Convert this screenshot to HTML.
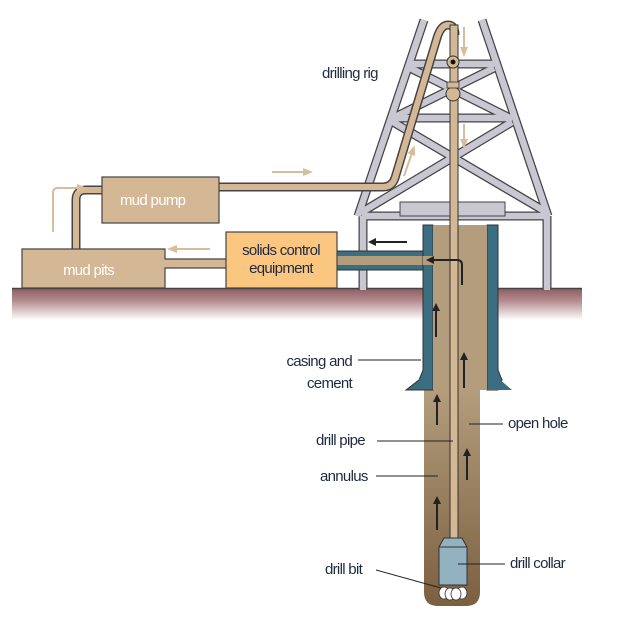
<!DOCTYPE html>
<html><head><meta charset="utf-8"><style>
html,body{margin:0;padding:0;background:#fff}
svg{display:block}
text{font-family:"Liberation Sans Narrow","Liberation Sans",sans-serif;font-size:15px;letter-spacing:-0.7px;fill:#1f2a40}
</style></head><body>
<svg width="642" height="630" viewBox="0 0 642 630" xmlns="http://www.w3.org/2000/svg">
<defs>
<linearGradient id="gr" x1="0" y1="0" x2="0" y2="1"><stop offset="0" stop-color="#8e5a5f"/><stop offset="0.4" stop-color="#b48c90"/><stop offset="1" stop-color="#ffffff"/></linearGradient>
<linearGradient id="hole" x1="0" y1="0" x2="0" y2="1"><stop offset="0" stop-color="#b39d7c"/><stop offset="1" stop-color="#7b6040"/></linearGradient>
<marker id="ah" markerWidth="8" markerHeight="8" refX="4" refY="4" orient="auto" markerUnits="userSpaceOnUse"><path d="M0,0 L8,4 L0,8 Z" fill="#222"/></marker>
<marker id="ahl" markerWidth="10" markerHeight="8" refX="5" refY="4" orient="auto" markerUnits="userSpaceOnUse"><path d="M0,0 L10,4 L0,8 Z" fill="#d8bc9c"/></marker>
</defs>
<!-- ground -->
<rect x="12" y="288" width="570" height="32" fill="url(#gr)"/>
<line x1="12" y1="288.5" x2="582" y2="288.5" stroke="#444" stroke-width="1.5"/>
<!-- derrick -->
<g fill="none" stroke="#444" stroke-width="9" stroke-linejoin="miter">
<path d="M424,20 L358,216 M482,20 L548,216"/>
<path d="M410,64 L494,64 M393,118 L512,118 M362,216 L546,216"/>
<path d="M410,68 L510,118 M494,68 L393,118 M393,122 L546,212 M512,122 L362,212"/>
<path d="M363,216 L363,290 M547,216 L547,290"/>
</g>
<g fill="none" stroke="#c8c7d2" stroke-width="6.5" stroke-linejoin="miter">
<path d="M424,20 L358,216 M482,20 L548,216"/>
<path d="M410,64 L494,64 M393,118 L512,118 M362,216 L546,216"/>
<path d="M410,68 L510,118 M494,68 L393,118 M393,122 L546,212 M512,122 L362,212"/>
<path d="M363,216 L363,290 M547,216 L547,290"/>
</g>
<rect x="400" y="202" width="105" height="14" fill="#c8c7d2" stroke="#444" stroke-width="1"/>
<!-- hose and pipes -->
<g fill="none" stroke-linejoin="round" stroke-linecap="butt">
<path d="M215,187 L383,187 Q392,187 395,178 L437,38 Q441,25 448,25 Q455,25 455,35" stroke="#444" stroke-width="9"/>
<path d="M215,187 L383,187 Q392,187 395,178 L437,38 Q441,25 448,25 Q455,25 455,35" stroke="#d4b895" stroke-width="6"/>
<path d="M76,252 L76,200 Q76,190 86,190 L104,190" stroke="#444" stroke-width="9"/>
<path d="M76,252 L76,200 Q76,190 86,190 L104,190" stroke="#d4b895" stroke-width="6"/>
</g>
<!-- mud pump -->
<rect x="102" y="177" width="117" height="46" fill="#d4b895" stroke="#444" stroke-width="1.2"/>
<text x="120" y="205" style="fill:#fff">mud pump</text>
<!-- mud pits -->
<path d="M22,249 L165,249 L165,259 L228,259 L228,268 L165,268 L165,288 L22,288 Z" fill="#d4b895" stroke="#444" stroke-width="1.2"/>
<text x="63" y="275" style="fill:#fff">mud pits</text>
<!-- solids to casing pipe -->
<rect x="335" y="251" width="92" height="19" fill="#3a6e80" stroke="#333" stroke-width="1"/>
<rect x="335" y="256" width="98" height="9" fill="#b39d7c"/>
<!-- solids control -->
<rect x="226" y="232" width="111" height="56" fill="#fac680" stroke="#444" stroke-width="1.2"/>
<text x="281" y="255" text-anchor="middle">solids control</text>
<text x="281" y="273" text-anchor="middle">equipment</text>
<!-- open hole -->
<path d="M424,390 L480,390 L480,592 Q480,606 466,606 L438,606 Q424,606 424,592 Z" fill="url(#hole)"/>
<!-- casing -->
<path d="M423,225 L433,225 L433,390 L406,390 L419,380 L423,370 Z" fill="#3a6e80" stroke="#333" stroke-width="1"/>
<path d="M487,225 L498,225 L498,370 L502,380 L498,390 L487,390 Z" fill="#3a6e80" stroke="#333" stroke-width="1"/>
<path d="M498,378 L512,390 L487,390 Z" fill="#3a6e80"/>
<rect x="433" y="225" width="54" height="165" fill="#b39d7c"/>
<rect x="423" y="256" width="12" height="9" fill="#b39d7c"/>
<!-- drill pipe -->
<rect x="450" y="25" width="8" height="522" fill="#d4b895" stroke="#333" stroke-width="1"/>
<circle cx="453" cy="62" r="6" fill="#d4b895" stroke="#333"/><circle cx="453" cy="62" r="2.5" fill="#111"/>
<circle cx="453" cy="94" r="7" fill="#d4b895" stroke="#333"/>
<rect x="447" y="82" width="12" height="6" fill="#d4b895" stroke="#333" stroke-width="0.8"/>
<!-- collar and bit -->
<path d="M444,538 L462,538 L467,547 L467,585 L439,585 L439,547 Z" fill="#93b2c0" stroke="#333" stroke-width="1"/>
<line x1="439" y1="547" x2="467" y2="547" stroke="#333" stroke-width="1"/>
<g fill="#fff" stroke="#333" stroke-width="0.8">
<ellipse cx="444" cy="593" rx="5" ry="6"/><ellipse cx="462" cy="593" rx="5" ry="6"/>
<ellipse cx="450" cy="594" rx="5" ry="6"/><ellipse cx="456" cy="594" rx="5" ry="6"/>
</g>
<!-- flow arrows dark -->
<g stroke="#222" stroke-width="2" marker-end="url(#ah)">
<line x1="436" y1="337" x2="436" y2="307"/><line x1="464" y1="388" x2="464" y2="356"/>
<line x1="437" y1="425" x2="437" y2="398"/><line x1="467" y1="480" x2="467" y2="452"/>
<line x1="437" y1="530" x2="437" y2="500"/>
<line x1="407" y1="242" x2="372" y2="242"/>
<path d="M462,285 L462,265 Q462,260 457,260 L430,260" fill="none"/>
</g>
<!-- light arrows -->
<g stroke="#d8bc9c" stroke-width="2" fill="none" marker-end="url(#ahl)">
<line x1="272" y1="172" x2="308" y2="172"/>
<line x1="210" y1="249" x2="172" y2="249"/>
<path d="M53,232 L53,193 Q53,188 58,188 L82,188"/>
<line x1="464" y1="27" x2="464" y2="52"/>
<line x1="464" y1="124" x2="464" y2="144"/>
<line x1="404" y1="176" x2="413" y2="150"/>
</g>
<!-- labels -->
<text x="322" y="78">drilling rig</text>
<text x="352" y="366" text-anchor="end">casing and</text>
<text x="352" y="388" text-anchor="end">cement</text>
<line x1="358" y1="360" x2="421" y2="360" stroke="#222"/>
<text x="508" y="428">open hole</text>
<line x1="469" y1="424" x2="503" y2="424" stroke="#222"/>
<text x="316" y="445">drill pipe</text>
<line x1="377" y1="441" x2="453" y2="441" stroke="#222"/>
<text x="320" y="481">annulus</text>
<line x1="376" y1="476" x2="438" y2="476" stroke="#222"/>
<text x="325" y="574">drill bit</text>
<line x1="376" y1="570" x2="441" y2="588" stroke="#222"/>
<text x="510" y="568">drill collar</text>
<line x1="458" y1="564" x2="505" y2="564" stroke="#222"/>
</svg>
</body></html>
